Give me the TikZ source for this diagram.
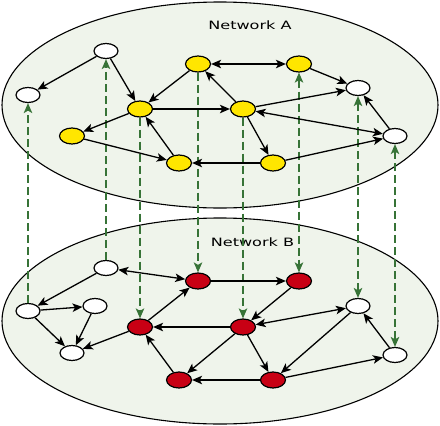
\documentclass[tikz,border=0pt]{standalone}
\usepackage{fontspec}
\setmainfont{DejaVu Sans}
\usetikzlibrary{arrows.meta,shapes.geometric}
\definecolor{planefill}{RGB}{239,244,235}
\definecolor{nodeyellow}{RGB}{255,230,0}
\definecolor{nodered}{RGB}{200,0,20}
\definecolor{linkgreen}{RGB}{55,115,55}
\tikzset{
  plane/.style={draw=black, line width=1.1pt, fill=planefill},
  nd/.style={ellipse, draw=black, line width=1.2pt, inner sep=0pt, minimum width=24pt, minimum height=15pt},
  wnode/.style={nd, fill=white},
  ynode/.style={nd, fill=nodeyellow, minimum width=25pt, minimum height=16pt},
  rnode/.style={nd, fill=nodered, minimum width=25pt, minimum height=16pt},
  tipk/.tip={Stealth[length=10pt,width=8.5pt,inset=2.5pt]},
  tipgr/.tip={Stealth[length=10pt,width=8.5pt,inset=2.5pt,color=linkgreen]},
  edge/.style={draw=black, line width=1.3pt, -tipk},
  bedge/.style={draw=black, line width=1.3pt, tipk-tipk},
  ilink/.style={draw=linkgreen, line width=1.4pt, dash pattern=on 8pt off 4pt},
  upg/.style={ilink, -tipgr},
  bothg/.style={ilink, tipgr-tipgr},
  nettitle/.style={font=\fontsize{11.5pt}{12pt}\selectfont, xscale=1.4, inner sep=0pt},
}
\begin{document}
\begin{tikzpicture}[x=1pt,y=-1pt]
\useasboundingbox (0,0) rectangle (440,426);
% planes
\draw[plane] (220,105) ellipse [x radius=218, y radius=103];
\draw[plane] (220,321) ellipse [x radius=218, y radius=103];
\node[nettitle] (labA) at (250,25.5) {Network A};
\node[nettitle] (labB) at (252.5,242) {Network B};
% top nodes
\node[wnode] (W1) at (106,51) {};
\node[wnode] (W2) at (28,95) {};
\node[ynode] (Y1) at (140,109) {};
\node[ynode] (Y2) at (198,64) {};
\node[ynode] (Y3) at (72,136) {};
\node[ynode] (Y4) at (179,163) {};
\node[ynode] (Y5) at (299,64) {};
\node[ynode] (Y6) at (243,109) {};
\node[ynode] (Y7) at (273,163) {};
\node[wnode] (W3) at (358,88) {};
\node[wnode] (W4) at (395,136) {};
% bottom nodes
\node[wnode] (BW1) at (106,268) {};
\node[wnode] (BW2) at (28,311) {};
\node[wnode] (BW3) at (95,306) {};
\node[wnode] (BW4) at (72,353) {};
\node[rnode] (R1) at (198,281) {};
\node[rnode] (R2) at (140,327) {};
\node[rnode] (R3) at (179,380) {};
\node[rnode] (R4) at (299,281) {};
\node[rnode] (R5) at (243,327) {};
\node[rnode] (R6) at (273,380) {};
\node[wnode] (BW5) at (358,306) {};
\node[wnode] (BW6) at (395,355) {};
% inter-layer links
\draw[upg] (BW2.north) -- (W2.south);
\draw[upg] (BW1.north) -- (W1.south);
\draw[upg] (Y1.south) -- (R2.north);
\draw[upg] (Y2.south) -- (R1.north);
\draw[upg] (Y6.south) -- (R5.north);
\draw[bothg] (Y5.south) -- (R4.north);
\draw[bothg] (W3.south) -- (BW5.north);
\draw[bothg] (W4.south) -- (BW6.north);
% top edges
\draw[edge] (W1) -- (W2);
\draw[edge] (W1) -- (Y1);
\draw[edge] (Y2) -- (Y1);
\draw[bedge] (Y2) -- (Y5);
\draw[edge] (Y1) -- (Y3);
\draw[edge] (Y3) -- (Y4);
\draw[edge] (Y4) -- (Y1);
\draw[edge] (Y1) -- (Y6);
\draw[edge] (Y6) -- (Y2);
\draw[edge] (Y7) -- (Y4);
\draw[edge] (Y6) -- (Y7);
\draw[edge] (Y5) -- (W3);
\draw[edge] (Y6) -- (W3);
\draw[bedge] (W4) -- (Y6);
\draw[edge] (W4) -- (W3);
\draw[edge] (Y7) -- (W4);
% bottom edges
\draw[bedge] (BW1) -- (R1);
\draw[edge] (BW1) -- (BW2);
\draw[edge] (BW2) -- (BW3);
\draw[edge] (BW2) -- (BW4);
\draw[edge] (BW3) -- (BW4);
\draw[edge] (R2) -- (BW4);
\draw[edge] (R2) -- (R1);
\draw[edge] (R5) -- (R2);
\draw[edge] (R3) -- (R2);
\draw[edge] (R5) -- (R3);
\draw[edge] (R6) -- (R3);
\draw[edge] (R1) -- (R4);
\draw[edge] (R4) -- (R5);
\draw[bedge] (BW5) -- (R5);
\draw[edge] (R5) -- (R6);
\draw[edge] (BW5) -- (R6);
\draw[edge] (R6) -- (BW6);
\draw[edge] (BW6) -- (BW5);
\end{tikzpicture}
\end{document}
